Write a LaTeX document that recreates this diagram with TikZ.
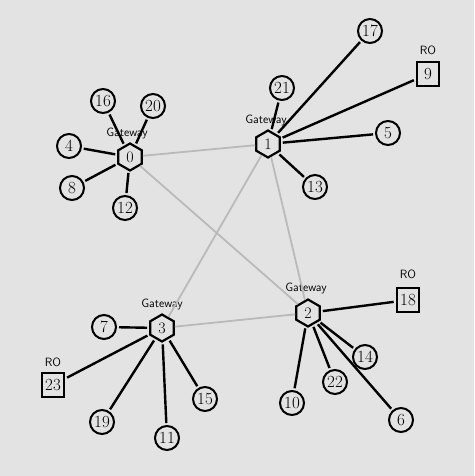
\documentclass[tikz,border=0pt]{standalone}
\usetikzlibrary{shapes.geometric}
\begin{document}
\begin{tikzpicture}[x=1pt,y=-1pt,
    gw/.style={draw,line width=2.2pt,regular polygon,regular polygon sides=6,
      shape border rotate=30,minimum size=27pt,inner sep=0pt,
      font=\fontsize{16}{16}\selectfont},
    host/.style={draw,circle,line width=2pt,minimum size=24pt,inner sep=0pt,
      font=\fontsize{17}{17}\selectfont},
    ro/.style={draw,rectangle,line width=2.6pt,minimum width=22pt,minimum height=24pt,
      inner sep=0pt,font=\fontsize{17}{17}\selectfont},
    tag/.style={font=\sffamily\fontsize{12}{12}\selectfont,inner sep=1pt},
    wire/.style={line width=2.4pt,black,shorten <=2pt,shorten >=2pt},
    trunk/.style={line width=1.8pt,black!27}]
  \fill[black!11] (0,0) rectangle (474,476);
  \useasboundingbox (0,0) rectangle (474,476);
  % gateways
  \node[gw] (g0) at (130,157) {0};
  \node[gw] (g1) at (268,144) {1};
  \node[gw] (g2) at (308,313) {2};
  \node[gw] (g3) at (162,328) {3};
  \node[tag] (t0) at (127,133) {Gateway};
  \node[tag] (t1) at (266,120) {Gateway};
  \node[tag] (t2) at (306,288) {Gateway};
  \node[tag] (t3) at (162,304) {Gateway};
  % hosts
  \node[host] (n16) at (103,101) {16};
  \node[host] (n20) at (153,106) {20};
  \node[host] (n4) at (69,146) {4};
  \node[host] (n8) at (72,188) {8};
  \node[host] (n12) at (125,208) {12};
  \node[host] (n21) at (282,88) {21};
  \node[host] (n17) at (370,31) {17};
  \node[host] (n5) at (388,133) {5};
  \node[host] (n13) at (315,187) {13};
  \node[host] (n14) at (365,357) {14};
  \node[host] (n22) at (335,382) {22};
  \node[host] (n10) at (292,403) {10};
  \node[host] (n6) at (401,420) {6};
  \node[host] (n7) at (104,327) {7};
  \node[host] (n19) at (102,422) {19};
  \node[host] (n11) at (167,438) {11};
  \node[host] (n15) at (205,399) {15};
  % RO nodes
  \node[ro] (r9) at (428,74) {9};
  \node[ro] (r18) at (408,300) {18};
  \node[ro] (r23) at (53,385) {23};
  \node[tag] (l9) at (428,50) {RO};
  \node[tag] (l18) at (408,274) {RO};
  \node[tag] (l23) at (53,362) {RO};
  % links
  \draw[trunk] (g0) -- (g1);
  \draw[trunk] (g0) -- (g2);
  \draw[trunk] (g1) -- (g2);
  \draw[trunk] (g1) -- (g3);
  \draw[trunk] (g3) -- (g2);
  \foreach \n in {n16,n20,n4,n8,n12} \draw[wire] (g0) -- (\n);
  \foreach \n in {n21,n17,r9,n5,n13} \draw[wire] (g1) -- (\n);
  \foreach \n in {r18,n14,n22,n10,n6} \draw[wire] (g2) -- (\n);
  \foreach \n in {n7,r23,n19,n11,n15} \draw[wire] (g3) -- (\n);
\end{tikzpicture}
\end{document}
